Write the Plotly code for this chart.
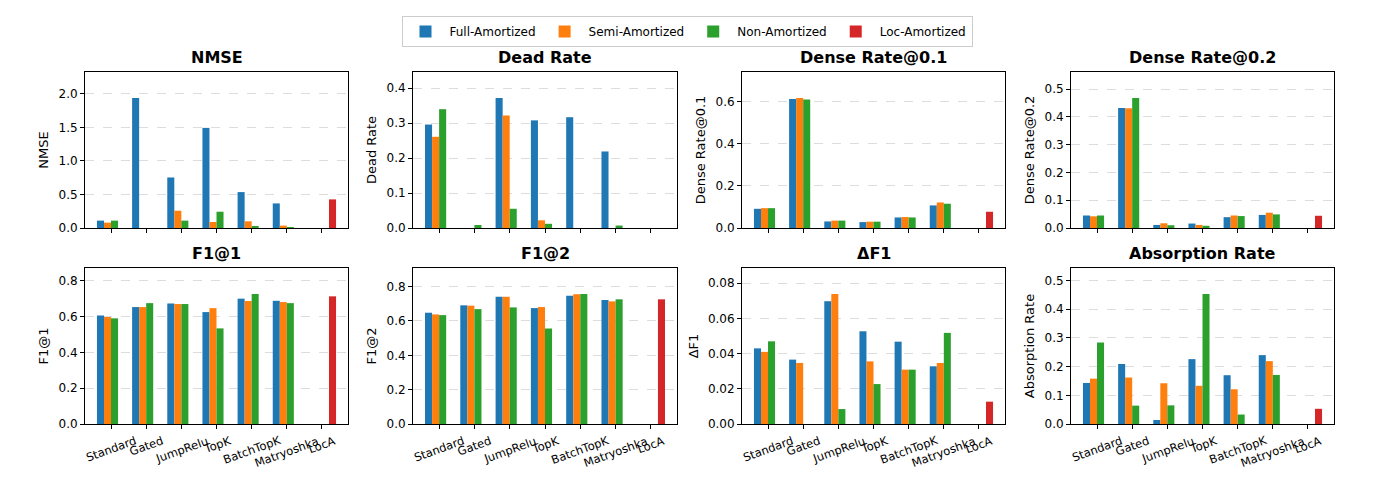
import plotly.graph_objects as go
from plotly.subplots import make_subplots

categories = ["Standard", "Gated", "JumpRelu", "TopK", "BatchTopK", "Matryoshka", "LocA"]
series_names = ["Full-Amortized", "Semi-Amortized", "Non-Amortized", "Loc-Amortized"]
colors = ["#1f77b4", "#ff7f0e", "#2ca02c", "#d62728"]

metrics = ["NMSE", "Dead Rate", "Dense Rate@0.1", "Dense Rate@0.2",
           "F1@1", "F1@2", "ΔF1", "Absorption Rate"]

# values per metric: full / semi / non amortized for the 6 baselines
nmse_full = [0.11, 1.94, 0.754, 1.494, 0.536, 0.367]
nmse_semi = [0.08, 0.0, 0.258, 0.09, 0.10, 0.035]
nmse_non = [0.11, 0.0, 0.11, 0.243, 0.02, 0.01]

dead_full = [0.296, 0.0, 0.372, 0.308, 0.317, 0.219]
dead_semi = [0.261, 0.0, 0.322, 0.022, 0.0, 0.0]
dead_non = [0.340, 0.0086, 0.055, 0.012, 0.0, 0.007]

dense1_full = [0.091, 0.611, 0.031, 0.028, 0.050, 0.107]
dense1_semi = [0.094, 0.616, 0.035, 0.030, 0.052, 0.121]
dense1_non = [0.094, 0.609, 0.035, 0.030, 0.050, 0.115]

dense2_full = [0.045, 0.432, 0.011, 0.016, 0.039, 0.047]
dense2_semi = [0.042, 0.431, 0.017, 0.011, 0.045, 0.055]
dense2_non = [0.045, 0.468, 0.010, 0.008, 0.043, 0.049]

f1_1_full = [0.606, 0.653, 0.673, 0.625, 0.700, 0.688]
f1_1_semi = [0.597, 0.653, 0.670, 0.647, 0.687, 0.681]
f1_1_non = [0.590, 0.675, 0.670, 0.534, 0.726, 0.675]

f1_2_full = [0.648, 0.691, 0.741, 0.675, 0.747, 0.722]
f1_2_semi = [0.638, 0.689, 0.741, 0.681, 0.755, 0.714]
f1_2_non = [0.634, 0.669, 0.679, 0.556, 0.757, 0.726]

df1_full = [0.043, 0.0366, 0.0698, 0.0527, 0.0468, 0.0328]
df1_semi = [0.041, 0.0347, 0.0739, 0.0356, 0.0309, 0.0347]
df1_non = [0.047, 0.0, 0.0085, 0.0227, 0.0309, 0.0518]

absorb_full = [0.143, 0.209, 0.014, 0.226, 0.170, 0.240]
absorb_semi = [0.158, 0.162, 0.142, 0.133, 0.121, 0.219]
absorb_non = [0.284, 0.064, 0.065, 0.453, 0.033, 0.171]

# LocA (Loc-Amortized) value for each metric
loca_values = [0.427, 0.0, 0.077, 0.044, 0.713, 0.726, 0.0127, 0.053]

metric_series = [
    (nmse_full, nmse_semi, nmse_non),
    (dead_full, dead_semi, dead_non),
    (dense1_full, dense1_semi, dense1_non),
    (dense2_full, dense2_semi, dense2_non),
    (f1_1_full, f1_1_semi, f1_1_non),
    (f1_2_full, f1_2_semi, f1_2_non),
    (df1_full, df1_semi, df1_non),
    (absorb_full, absorb_semi, absorb_non),
]
dticks = [0.5, 0.1, 0.2, 0.1, 0.2, 0.2, 0.02, 0.1]
tickformats = [".1f", ".1f", ".1f", ".1f", ".1f", ".1f", ".2f", ".1f"]

# page has an 8px body margin, so the figure is a bit smaller than the window
OFF = 8
W, H = 1380 - OFF, 491 - OFF
col_px = [(85, 348), (413, 677), (742, 1005), (1071, 1334)]
row_px = [(72, 228), (268, 424)]

fig = make_subplots(rows=2, cols=4)
font = "DejaVu Sans"

for i, metric in enumerate(metrics):
    r, c = i // 4 + 1, i % 4 + 1
    full, semi, non = metric_series[i]
    cols_vals = [list(full) + [None], list(semi) + [None], list(non) + [None],
                 [None] * 6 + [loca_values[i]]]
    for k, name in enumerate(series_names):
        fig.add_trace(go.Bar(x=categories, y=cols_vals[k], name=name,
                             marker=dict(color=colors[k], line=dict(width=0)),
                             legendgroup=name, showlegend=(i == 0)),
                      row=r, col=c)
    ymax = max(v for s in cols_vals for v in s if v is not None) * 1.2
    x0, x1 = [p - OFF for p in col_px[c - 1]]
    y0, y1 = [p - OFF for p in row_px[r - 1]]
    fig.update_xaxes(domain=[x0 / W, x1 / W], range=[-0.74, 6.74],
                     showticklabels=False, ticks="outside", ticklen=4,
                     tickcolor="black", showline=True, mirror=True,
                     linecolor="black", linewidth=1, showgrid=False,
                     automargin=False, row=r, col=c)
    fig.update_yaxes(domain=[1 - y1 / H, 1 - y0 / H], range=[0, ymax],
                     dtick=dticks[i], tick0=0, tickformat=tickformats[i],
                     ticks="outside", ticklen=4, tickcolor="black",
                     showline=True, mirror=True, linecolor="black", linewidth=1,
                     showgrid=True, gridcolor="#dddddd", griddash="dash",
                     gridwidth=0.8, zeroline=False, automargin=False,
                     title=dict(text=metric, font=dict(size=13, color="black"),
                                standoff=6),
                     tickfont=dict(size=12, color="black"),
                     row=r, col=c)
    axn = "" if i == 0 else str(i + 1)
    fig.add_annotation(text="<b>%s</b>" % metric, xref="x%s domain" % axn,
                       yref="y%s domain" % axn, x=0.5, y=1, yanchor="bottom",
                       yshift=3, showarrow=False,
                       font=dict(size=16, color="black", family=font))
    if r == 2:
        for cat in categories:
            fig.add_annotation(text=cat, xref="x" + axn, yref="y%s domain" % axn,
                               x=cat, y=0, yanchor="top", xanchor="center",
                               yshift=-7, textangle=-20, showarrow=False,
                               font=dict(size=11.5, color="black", family=font))

fig.update_layout(
    width=W, height=H,
    margin=dict(l=0, r=0, t=0, b=0, autoexpand=False),
    plot_bgcolor="white", paper_bgcolor="white",
    font=dict(family=font, color="black"),
    barmode="group", bargap=0.2, bargroupgap=0,
    legend=dict(orientation="h", x=(687 - OFF) / W, xanchor="center",
                y=1 - (16 - OFF) / H, yanchor="top",
                bordercolor="#cccccc", borderwidth=1,
                font=dict(size=12), itemwidth=38),
)

fig.write_html("out.html")
